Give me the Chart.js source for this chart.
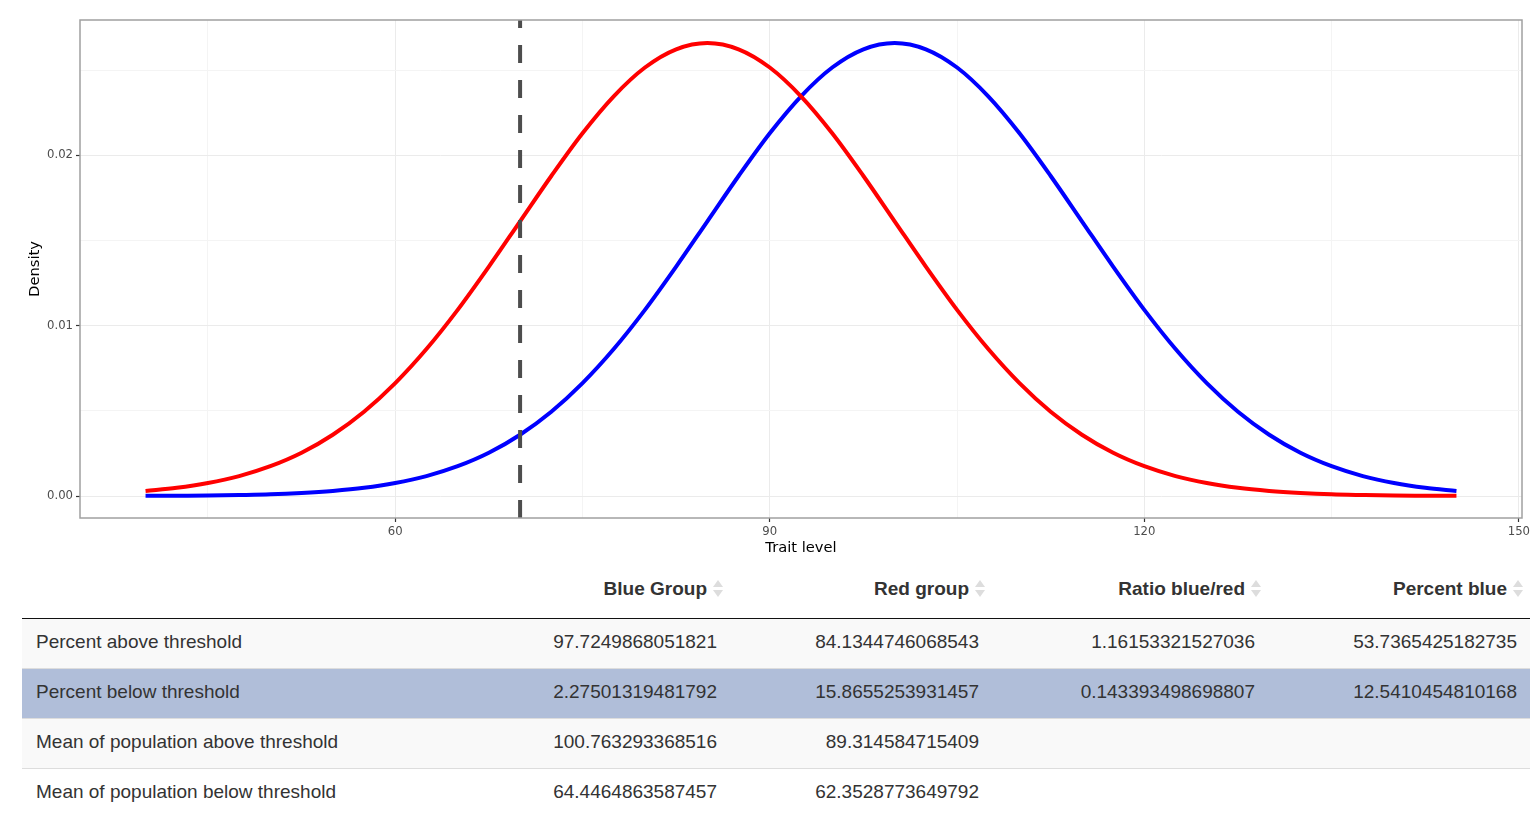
<!DOCTYPE html>
<html>
<head>
<meta charset="utf-8">
<script src="https://cdn.jsdelivr.net/npm/chart.js@4/dist/chart.umd.min.js"></script>
<style>
  html, body { margin: 0; padding: 0; background: #fff; }
  #wrap { position: absolute; left: 0; top: 0; width: 1536px; height: 560px; }
  table { position: absolute; left: 22px; top: 568px; width: 1508px; border-collapse: collapse; table-layout: fixed;
          font-family: "Liberation Sans", Arial, sans-serif; font-size: 19px; color: #333; }
  th { font-weight: bold; text-align: right; padding: 10px 23px 18px 10px; line-height: 22px; border-bottom: 1px solid #111; position: relative; }
  td { text-align: right; padding: 12px 13px 15px 14px; line-height: 22px; border-top: 1px solid #ddd; white-space: nowrap; }
  td:first-child { text-align: left; }
  tbody tr:first-child td { border-top: none; }
  tr.odd td { background: #f9f9f9; }
  tr.even td { background: #fff; }
  tr.sel td { background: #b0bed9; }
  .s { position: absolute; right: 6px; top: 12px; width: 12px; height: 18px; }
  .s:before { content: ""; position: absolute; left: 1px; top: 0; border-left: 5px solid transparent; border-right: 5px solid transparent; border-bottom: 7px solid #ddd; }
  .s:after { content: ""; position: absolute; left: 1px; top: 10px; border-left: 5px solid transparent; border-right: 5px solid transparent; border-top: 7px solid #ddd; }
</style>
</head>
<body>
<div id="wrap"><canvas id="c" width="1536" height="560"></canvas></div>
<table id="t">
  <colgroup><col style="width:448px"><col style="width:260px"><col style="width:262px"><col style="width:276px"><col style="width:262px"></colgroup>
  <thead><tr id="hdr"></tr></thead>
  <tbody id="tb"></tbody>
</table>
<script>
// ---- chart data ----
const traitLevels = [40,42.5,45,47.5,50,52.5,55,57.5,60,62.5,65,67.5,70,72.5,75,77.5,80,82.5,85,87.5,90,92.5,95,97.5,100,102.5,105,107.5,110,112.5,115,117.5,120,122.5,125,127.5,130,132.5,135,137.5,140,142.5,145];
const redDensity  = [0.00030,0.00048,0.00076,0.00117,0.00175,0.00254,0.00360,0.00495,0.00663,0.00863,0.01093,0.01347,0.01613,0.01879,0.02130,0.02347,0.02516,0.02623,0.02660,0.02623,0.02516,0.02347,0.02130,0.01879,0.01613,0.01347,0.01093,0.00863,0.00663,0.00495,0.00360,0.00254,0.00175,0.00117,0.00076,0.00048,0.00030,0.00018,0.00010,0.00006,0.00003,0.00002,0.00001];
const blueDensity = [0.00001,0.00002,0.00003,0.00006,0.00010,0.00018,0.00030,0.00048,0.00076,0.00117,0.00175,0.00254,0.00360,0.00495,0.00663,0.00863,0.01093,0.01347,0.01613,0.01879,0.02130,0.02347,0.02516,0.02623,0.02660,0.02623,0.02516,0.02347,0.02130,0.01879,0.01613,0.01347,0.01093,0.00863,0.00663,0.00495,0.00360,0.00254,0.00175,0.00117,0.00076,0.00048,0.00030];
const threshold = 70;
const xTicks = [45,60,75,90,105,120,135,150];
const xLabelTicks = [60,90,120,150];
const yTicks = [0,0.005,0.01,0.015,0.02,0.025];
const yLabelTicks = [0,0.01,0.02];
const xLimits = [34.75, 150.25];
const yLimits = [-0.00129, 0.02795];

// ---- table data ----
const tableHeaders = ["", "Blue Group", "Red group", "Ratio blue/red", "Percent blue"];
const rowLabels = ["Percent above threshold","Percent below threshold","Mean of population above threshold","Mean of population below threshold"];
const blueGroup = ["97.7249868051821","2.27501319481792","100.763293368516","64.4464863587457"];
const redGroup  = ["84.1344746068543","15.8655253931457","89.314584715409","62.3528773649792"];
const ratioBlueRed = ["1.16153321527036","0.143393498698807","",""];
const percentBlue  = ["53.7365425182735","12.5410454810168","",""];

// build table
const hdr = document.getElementById('hdr');
tableHeaders.forEach((h,i)=>{
  const th = document.createElement('th');
  th.textContent = h;
  if (i>0) { const s=document.createElement('span'); s.className='s'; th.appendChild(s); }
  hdr.appendChild(th);
});
const tb = document.getElementById('tb');
rowLabels.forEach((r,i)=>{
  const tr = document.createElement('tr');
  tr.className = i===1 ? 'sel' : (i%2===0 ? 'odd' : 'even');
  [r, blueGroup[i], redGroup[i], ratioBlueRed[i], percentBlue[i]].forEach(v=>{
    const td=document.createElement('td'); td.textContent=v; tr.appendChild(td);
  });
  tb.appendChild(tr);
});

const isMajorX = v => xLabelTicks.includes(v);
const isMajorY = v => yLabelTicks.some(t=>Math.abs(t-v)<1e-9);

const panelBorder = {
  id: 'panelBorder',
  afterDraw(chart) {
    const {ctx, chartArea:a} = chart;
    ctx.save();
    ctx.strokeStyle = '#a0a0a0';
    ctx.lineWidth = 1.5;
    ctx.strokeRect(a.left, a.top, a.right-a.left, a.bottom-a.top);
    ctx.restore();
  }
};

new Chart(document.getElementById('c'), {
  type: 'line',
  data: {
    datasets: [
      { label: 'threshold', data: [{x:threshold,y:yLimits[0]},{x:threshold,y:yLimits[1]}],
        borderColor: '#4d4d4d', borderWidth: 4, borderDash: [18,17], pointRadius: 0, borderCapStyle: 'butt' },
      { label: 'Red', data: traitLevels.map((x,i)=>({x, y: redDensity[i]})),
        borderColor: '#ff0000', borderWidth: 4, pointRadius: 0, cubicInterpolationMode: 'monotone', borderCapStyle: 'butt' },
      { label: 'Blue', data: traitLevels.map((x,i)=>({x, y: blueDensity[i]})),
        borderColor: '#0000ff', borderWidth: 4, pointRadius: 0, cubicInterpolationMode: 'monotone', borderCapStyle: 'butt' }
    ]
  },
  options: {
    responsive: false,
    devicePixelRatio: 1,
    animation: false,
    layout: { padding: { top: 20, right: 14, left: 0, bottom: 0 } },
    plugins: { legend: { display: false }, tooltip: { enabled: false } },
    scales: {
      x: {
        type: 'linear', min: xLimits[0], max: xLimits[1],
        afterBuildTicks: s => { s.ticks = xTicks.map(v=>({value:v})); },
        afterFit: s => { s.height = 42; },
        ticks: { autoSkip: false, maxRotation: 0, padding: 3, color: '#4d4d4d',
                 font: { family: 'DejaVu Sans', size: 11.7 },
                 callback: v => isMajorX(v) ? String(v) : '' },
        grid: { color: c => isMajorX(c.tick.value) ? '#ebebeb' : '#f4f4f4', lineWidth: 1,
                tickColor: c => isMajorX(c.tick.value) ? '#333333' : 'rgba(0,0,0,0)', tickLength: 4, tickWidth: 1.2 },
        border: { display: false },
        title: { display: true, text: 'Trait level', color: '#000', font: { family: 'DejaVu Sans', size: 14.7 }, padding: { top: 0, bottom: 3 } }
      },
      y: {
        type: 'linear', min: yLimits[0], max: yLimits[1],
        afterBuildTicks: s => { s.ticks = yTicks.map(v=>({value:v})); },
        afterFit: s => { s.width = 80; },
        ticks: { autoSkip: false, padding: 3, color: '#4d4d4d',
                 font: { family: 'DejaVu Sans', size: 11.7 },
                 callback: v => isMajorY(v) ? v.toFixed(2) : '' },
        grid: { color: c => isMajorY(c.tick.value) ? '#ebebeb' : '#f4f4f4', lineWidth: 1,
                tickColor: c => isMajorY(c.tick.value) ? '#333333' : 'rgba(0,0,0,0)', tickLength: 4, tickWidth: 1.2 },
        border: { display: false },
        title: { display: true, text: 'Density', color: '#000', font: { family: 'DejaVu Sans', size: 14.7 }, padding: { top: 26, bottom: 0 } }
      }
    }
  },
  plugins: [panelBorder]
});
</script>
</body>
</html>
